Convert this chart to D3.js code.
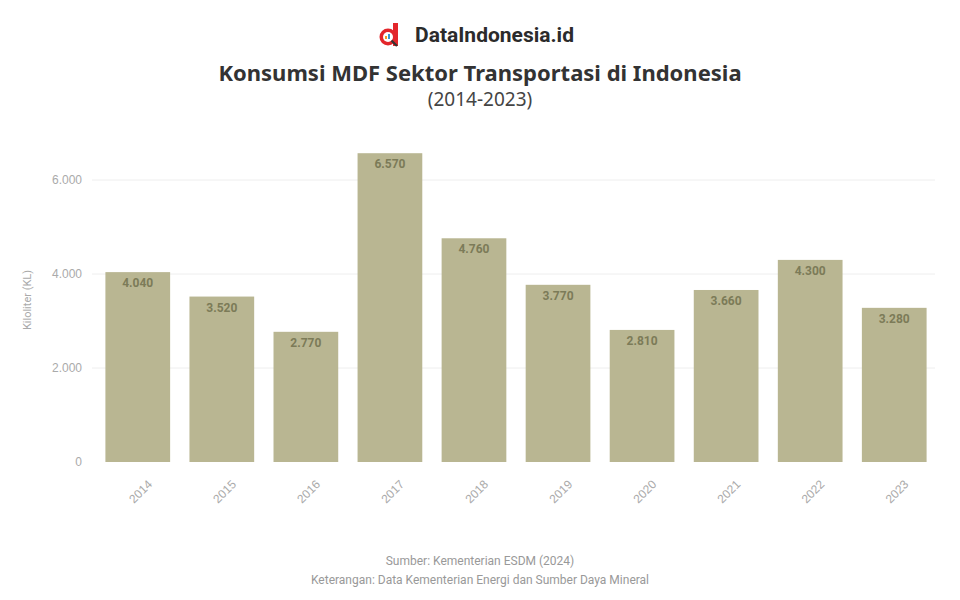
<!DOCTYPE html>
<html><head><meta charset="utf-8">
<script src="https://cdn.jsdelivr.net/npm/d3@7"></script>
<style>body{margin:0;background:#fff;}svg{display:block;font-family:Roboto,"Noto Sans",sans-serif;}</style>
</head><body>
<svg id="c" width="960" height="600"></svg>
<script>
const years = ["2014","2015","2016","2017","2018","2019","2020","2021","2022","2023"];
const values = [4040, 3520, 2770, 6570, 4760, 3770, 2810, 3660, 4300, 3280];
const yTicks = [0, 2000, 4000, 6000];
const titleText = "Konsumsi MDF Sektor Transportasi di Indonesia";
const subtitleText = "(2014-2023)";
const yAxisTitle = "Kiloliter (KL)";
const footerLines = ["Sumber: Kementerian ESDM (2024)", "Keterangan: Data Kementerian Energi dan Sumber Daya Mineral"];

const svg = d3.select("#c");
const fmt = d3.formatLocale({decimal:",",thousands:".",grouping:[3],currency:["Rp",""]}).format(",.0f");

// Header logo
const logo = svg.append("g").attr("transform","translate(379,23)");
logo.append("path").attr("d","M14,0 h5 v23 h-5 z").attr("fill","#e3262b");
logo.append("circle").attr("cx",9).attr("cy",14).attr("r",8.5).attr("fill","#e3262b");
logo.append("circle").attr("cx",9).attr("cy",14).attr("r",5).attr("fill","#fff");
logo.append("rect").attr("x",6).attr("y",13).attr("width",2).attr("height",3).attr("fill","#f2a01f");
logo.append("rect").attr("x",9).attr("y",11).attr("width",2).attr("height",5).attr("fill","#3a9bd5");
logo.append("line").attr("x1",12.5).attr("y1",17.5).attr("x2",18).attr("y2",23).attr("stroke","#333").attr("stroke-width",2.2);
svg.append("text").attr("x",415).attr("y",42).attr("font-size",21).attr("font-weight",700)
  .attr("fill","#2b2b2b").text("DataIndonesia.id");

svg.append("text").attr("x",480).attr("y",81).attr("text-anchor","middle")
  .style("font-family","'Noto Sans',sans-serif")
  .attr("font-size",22).attr("font-weight",700).attr("fill","#333").text(titleText);
svg.append("text").attr("x",480).attr("y",106).attr("text-anchor","middle")
  .style("font-family","'Noto Sans',sans-serif")
  .attr("font-size",19).attr("fill","#444").text(subtitleText);

const x = d3.scaleBand().domain(years).range([97, 935]).paddingInner(0.23).paddingOuter(0.1);
const y = d3.scaleLinear().domain([0, 6000]).range([462, 180]);

// gridlines
svg.append("g").selectAll("line").data(yTicks.filter(d=>d>0)).join("line")
  .attr("x1",92).attr("x2",935).attr("y1",d=>y(d)).attr("y2",d=>y(d))
  .attr("stroke","#eeeeee").attr("stroke-width",1);

// y axis labels
const yAxis = svg.append("g").attr("transform","translate(85,0)")
  .call(d3.axisLeft(y).tickValues(yTicks).tickFormat(fmt).tickSize(0));
yAxis.select(".domain").remove();
yAxis.selectAll("text").attr("font-size",12).attr("fill","#aaa");

svg.append("text").attr("transform","translate(31,300) rotate(-90)").attr("text-anchor","middle")
  .attr("font-size",11).attr("fill","#aaa").text(yAxisTitle);

// bars
svg.append("g").selectAll("rect").data(values).join("rect")
  .attr("x",(d,i)=>x(years[i])).attr("width",x.bandwidth())
  .attr("y",d=>y(d)).attr("height",d=>y(0)-y(d))
  .attr("fill","#b9b692");

// value labels
svg.append("g").selectAll("text").data(values).join("text")
  .attr("x",(d,i)=>x(years[i])+x.bandwidth()/2).attr("y",d=>y(d)+15)
  .attr("text-anchor","middle").attr("font-size",12).attr("font-weight",700)
  .attr("fill","#7c7b58").text(d=>fmt(d));

// x axis labels
const xAxis = svg.append("g").attr("transform","translate(0,468)")
  .call(d3.axisBottom(x).tickSize(0));
xAxis.select(".domain").remove();
xAxis.selectAll("text").attr("font-size",12).attr("fill","#aaa")
  .attr("text-anchor","end").attr("dy","0.35em")
  .attr("transform","translate(10,12) rotate(-45)");

// footer
svg.append("g").selectAll("text").data(footerLines).join("text")
  .attr("x",480).attr("y",(d,i)=>565+i*19).attr("text-anchor","middle")
  .attr("font-size",12).attr("fill","#999").text(d=>d);
</script>
</body></html>
